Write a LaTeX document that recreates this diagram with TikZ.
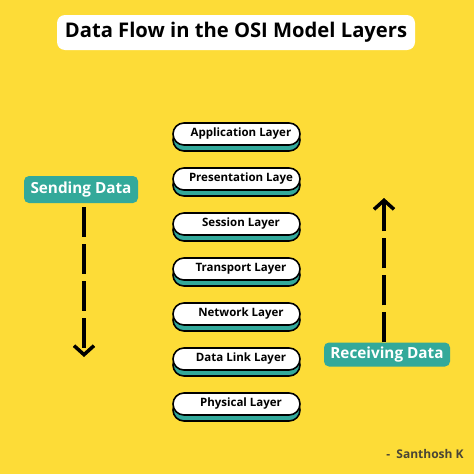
\documentclass[tikz,border=0pt]{standalone}
\usepackage{fontspec}
\setmainfont{Open Sans}
\usetikzlibrary{arrows.meta,shadows}
\definecolor{bgyellow}{HTML}{FDDC37}
\definecolor{tealbox}{HTML}{33A99A}
\definecolor{signgray}{HTML}{4A4535}
\tikzset{
  layer/.style={draw=black, line width=1.6pt, fill=white, rounded corners=11pt,
    minimum width=127pt, minimum height=22pt, inner sep=0pt,
    font=\bfseries\fontsize{11.5}{13}\selectfont,
    execute at begin node=\hspace*{9pt},
    drop shadow={shadow xshift=0pt, shadow yshift=-6pt, opacity=1,
      fill=tealbox, draw=black, line width=1.6pt}},
  tag/.style={fill=tealbox, text=white, rounded corners=5pt, inner sep=0pt,
    font=\bfseries\fontsize{15.3}{17}\selectfont},
  flow/.style={line width=4.5pt, dash pattern=on 30pt off 7pt,
    -{Straight Barb[length=9pt,width=20pt,line width=3.5pt]}}
}
\begin{document}
\begin{tikzpicture}[x=1pt,y=-1pt]
  \useasboundingbox (0,0) rectangle (474,474);
  % Nền
  \fill[bgyellow] (0,0) rectangle (474,474);
  % Tiêu đề
  \node[fill=white, rounded corners=8pt, minimum width=358pt, minimum height=35pt,
    font=\bfseries\fontsize{20.2}{22}\selectfont] (title) at (236,32.5)
    {Data Flow in the OSI Model Layers};
  % Các tầng
  \foreach \name/\txt [count=\i] in {app/Application Layer, pres/Presentation Laye,
      sess/Session Layer, trans/Transport Layer, net/Network Layer,
      link/Data Link Layer, phys/Physical Layer}
    \node[layer] (\name) at (236.5,{134+45*(\i-1)}) {\txt};
  % Gửi dữ liệu
  \node[tag, minimum width=114pt, minimum height=27pt] (send) at (81,189.5) {Sending Data};
  \coordinate (sendend) at (84,357);
  \draw[flow] ([xshift=3pt,yshift=-4pt]send.south) -- (sendend);
  % Nhận dữ liệu
  \node[tag, minimum width=126pt, minimum height=24pt] (recv) at (387,354.5) {Receiving Data};
  \coordinate (recvend) at (384,198);
  \draw[flow] ([xshift=-3pt]recv.north) -- (recvend);
  % Tác giả
  \node[text=signgray, font=\bfseries\fontsize{12}{14}\selectfont] (sign) at (425,454)
    {-\ \ Santhosh K};
\end{tikzpicture}
\end{document}
